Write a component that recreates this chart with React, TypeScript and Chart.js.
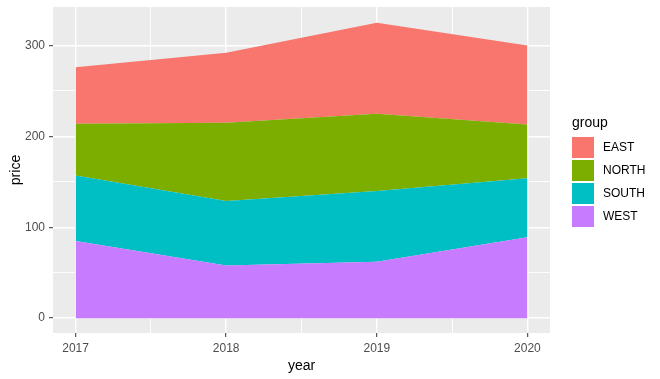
import React, { useEffect, useRef } from "react";
import { Chart, registerables } from "chart.js";

Chart.register(...registerables);

const years = [2017, 2018, 2019, 2020];
const groups = ["EAST", "NORTH", "SOUTH", "WEST"];
const groupColors = ["#F8766D", "#7CAE00", "#00BFC4", "#C77CFF"];
const eastValues = [62, 77, 100, 87];
const northValues = [57, 86, 85, 59];
const southValues = [72, 71, 78, 65];
const westValues = [85, 58, 62, 89];
const xTickValues = [2017, 2017.5, 2018, 2018.5, 2019, 2019.5, 2020];
const yTickValues = [0, 50, 100, 150, 200, 250, 300];

const FONT = "'Liberation Sans', Arial, sans-serif";

const panelBg = {
  id: "panelBg",
  beforeDraw(chart: any) {
    const { ctx, chartArea } = chart;
    ctx.save();
    ctx.fillStyle = "#EBEBEB";
    ctx.fillRect(chartArea.left, chartArea.top, chartArea.right - chartArea.left, chartArea.bottom - chartArea.top);
    ctx.restore();
  },
};

export default function App() {
  const ref = useRef<HTMLCanvasElement | null>(null);

  useEffect(() => {
    if (!ref.current) return;
    const series: Record<string, number[]> = {
      EAST: eastValues,
      NORTH: northValues,
      SOUTH: southValues,
      WEST: westValues,
    };
    const order = ["WEST", "SOUTH", "NORTH", "EAST"];
    const datasets = order.map((g, i) => {
      const color = groupColors[groups.indexOf(g)];
      return {
        label: g,
        data: years.map((y, j) => ({ x: y, y: series[g][j] })),
        backgroundColor: color,
        borderColor: color,
        borderWidth: 0,
        pointRadius: 0,
        tension: 0,
        fill: i === 0 ? "origin" : "-1",
      };
    });
    const isMajorX = (v: number) => Number.isInteger(v);
    const isMajorY = (v: number) => v % 100 === 0;
    const chart = new Chart(ref.current, {
      type: "line",
      data: { datasets } as any,
      plugins: [panelBg],
      options: {
        animation: false,
        responsive: false,
        events: [],
        layout: { padding: { left: 0, top: 7, right: 110, bottom: 0 } },
        plugins: { legend: { display: false }, tooltip: { enabled: false } },
        scales: {
          x: {
            type: "linear",
            min: 2016.85,
            max: 2020.15,
            afterBuildTicks: (s: any) => {
              s.ticks = xTickValues.map((v) => ({ value: v }));
            },
            afterFit: (s: any) => {
              s.height = 46;
              s.paddingLeft = 0;
              s.paddingRight = 0;
            },
            border: { display: false },
            grid: {
              color: "#FFFFFF",
              lineWidth: (c: any) => (isMajorX(c.tick.value) ? 1.4 : 0.9),
              tickColor: (c: any) => (isMajorX(c.tick.value) ? "#333333" : "rgba(0,0,0,0)"),
              tickLength: 4,
              tickWidth: 1,
              drawTicks: true,
            },
            ticks: {
              autoSkip: false,
              maxRotation: 0,
              padding: 4,
              color: "#4D4D4D",
              font: { family: FONT, size: 12 },
              callback: (v: any) => (isMajorX(Number(v)) ? String(v) : ""),
            },
            title: {
              display: true,
              text: "year",
              color: "#000000",
              font: { family: FONT, size: 14 },
              padding: { top: 0, bottom: 4 },
            },
          },
          y: {
            type: "linear",
            stacked: true,
            min: -16.3,
            max: 342.3,
            afterBuildTicks: (s: any) => {
              s.ticks = yTickValues.map((v) => ({ value: v }));
            },
            afterFit: (s: any) => {
              s.width = 53;
              s.paddingTop = 0;
              s.paddingBottom = 0;
            },
            border: { display: false },
            grid: {
              color: "#FFFFFF",
              lineWidth: (c: any) => (isMajorY(c.tick.value) ? 1.4 : 0.9),
              tickColor: (c: any) => (isMajorY(c.tick.value) ? "#333333" : "rgba(0,0,0,0)"),
              tickLength: 4,
              tickWidth: 1,
              drawTicks: true,
            },
            ticks: {
              autoSkip: false,
              padding: 4,
              color: "#4D4D4D",
              font: { family: FONT, size: 12 },
              callback: (v: any) => (isMajorY(Number(v)) ? String(v) : ""),
            },
            title: {
              display: true,
              text: "price",
              color: "#000000",
              font: { family: FONT, size: 14 },
              padding: { top: 8, bottom: 0 },
            },
          },
        },
      } as any,
    });
    return () => chart.destroy();
  }, []);

  return (
    <div style={{ position: "fixed", left: 0, top: 0, width: 660, height: 379, background: "#FFFFFF", fontFamily: FONT }}>
      <canvas ref={ref} width={660} height={379} style={{ position: "absolute", left: 0, top: 0 }} />
      <div style={{ position: "absolute", left: 572, top: 114, fontSize: 14, lineHeight: "16px", color: "#000" }}>group</div>
      {groups.map((g, i) => (
        <div key={g}>
          <div
            style={{
              position: "absolute",
              left: 572,
              top: 137 + i * 23,
              width: 22,
              height: 21,
              background: groupColors[i],
            }}
          />
          <div
            style={{
              position: "absolute",
              left: 603,
              top: 137 + i * 23,
              height: 21,
              lineHeight: "21px",
              fontSize: 12,
              color: "#000",
            }}
          >
            {g}
          </div>
        </div>
      ))}
    </div>
  );
}
